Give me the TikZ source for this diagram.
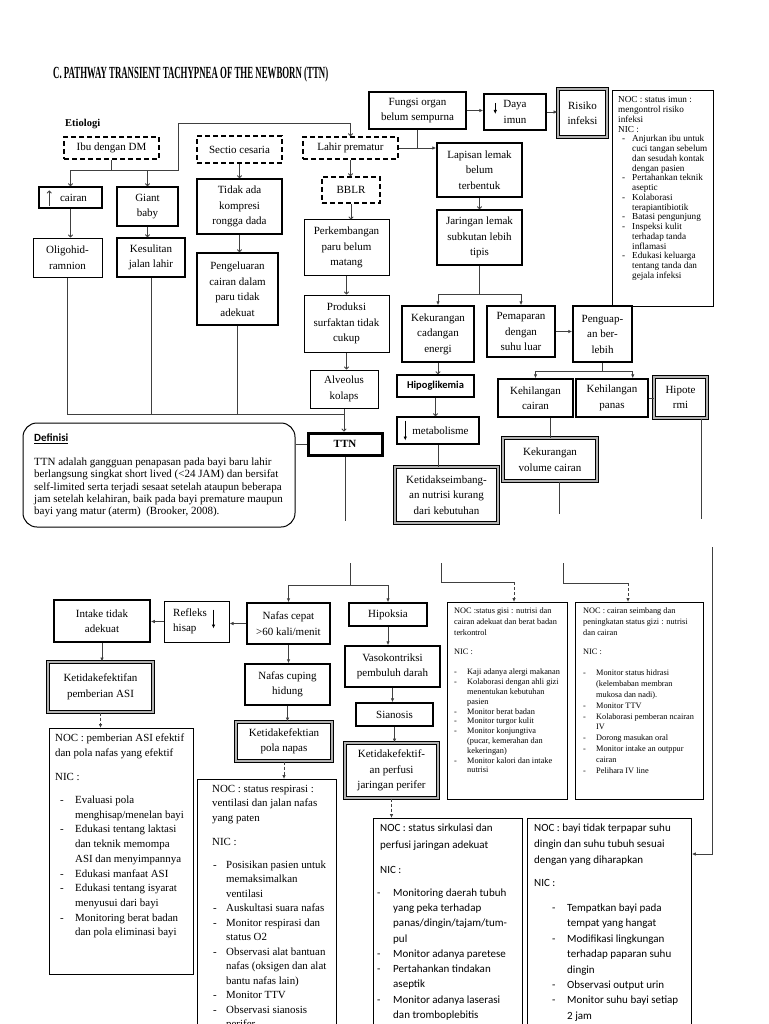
\documentclass[tikz,border=0pt]{standalone}
\usepackage{fontspec}
\setmainfont{Liberation Serif}
\newfontfamily\calfont{Carlito}
\usepackage{graphicx}
\usepackage{tikz}
\usetikzlibrary{positioning,calc,arrows.meta}

\newlength\dpre
\newlength\dind
\newcommand{\nit}[1]{\hspace*{\dpre}\makebox[\dind][l]{-}#1}
\newcommand{\ncn}[1]{\hspace*{\dpre}\hspace*{\dind}#1}

\tikzset{
	sbox/.style={draw, line width=1.5pt, align=center, inner sep=1pt, font=\fontsize{11}{15.5}\selectfont},
	tbox/.style={sbox, line width=1pt},
	dbox/.style={sbox, line width=1.6pt, dash pattern=on 5pt off 3pt},
	dblbox/.style={sbox, line width=1pt, double=gray!60, double distance=1.3pt},
	ttnbox/.style={sbox, line width=3pt},
	nocbox/.style={draw, line width=0.8pt, inner sep=0pt, anchor=north west},
	noctext/.style={align=left, inner sep=0pt, anchor=north west},
	conn/.style={draw=black!75, line width=0.8pt},
	arr/.style={conn, -{To[length=3pt,width=5pt]}},
	farr/.style={conn, -{Latex[length=4pt,width=3.5pt]}},
	darr/.style={farr, dash pattern=on 3pt off 2pt},
}

\begin{document}
\begin{tikzpicture}[x=1pt, y=-1pt]
		\useasboundingbox (0,0) rectangle (768,1024);
		\fill[white] (0,0) rectangle (768,1024);
		\clip (0,0) rectangle (768,1024);
		\node[anchor=west, inner sep=0pt] (title) at (53,74) {\resizebox{275pt}{\height}{\fontsize{17}{17}\selectfont\bfseries C. PATHWAY TRANSIENT TACHYPNEA OF THE NEWBORN (TTN)}};
		\node[anchor=west, inner sep=0pt, font=\fontsize{10.5}{12}\selectfont\bfseries] (etiologi) at (65,124) {Etiologi};
		% etiologi
		\node[dbox, minimum width=95, minimum height=22] (ibudm) at (111.5,148) {Ibu dengan DM};
		\node[dbox, minimum width=85, minimum height=27] (sectio) at (239.5,149.5) {Sectio cesaria};
		\node[dbox, minimum width=95, minimum height=22] (lahir) at (350.5,148) {Lahir prematur};
		\node[sbox, minimum width=63, minimum height=21] (cairan) at (70.5,197.5) {\hspace*{6pt}cairan};
		\node[sbox, minimum width=61, minimum height=39] (giant) at (147.5,206.5) {Giant\\baby};
		\node[tbox, minimum width=69, minimum height=39] (oligo) at (67.5,257.5) {Oligohid-\\ramnion};
		\node[sbox, minimum width=68, minimum height=39] (kesulitan) at (151,257.5) {Kesulitan\\jalan lahir};
		\node[sbox, minimum width=85, minimum height=55] (kompresi) at (239.5,206.5) {Tidak ada\\kompresi\\rongga dada};
		\node[sbox, minimum width=81, minimum height=72] (pengeluaran) at (237.5,289) {Pengeluaran\\cairan dalam\\paru tidak\\adekuat};
		\node[dbox, minimum width=58, minimum height=26] (bblr) at (351,190) {BBLR};
		\node[tbox, minimum width=85, minimum height=55] (perkembangan) at (346.5,247.5) {Perkembangan\\paru belum\\matang};
		\node[tbox, minimum width=85, minimum height=57] (surfaktan) at (346.5,323.5) {Produksi\\surfaktan tidak\\cukup};
		\node[tbox, minimum width=68, minimum height=38] (alveolus) at (344,389) {Alveolus\\kolaps};
		\node[ttnbox, minimum width=74, minimum height=22] (ttn) at (345,444) {\textbf{TTN}};
		\node[draw, line width=1pt, rounded corners=14pt, minimum width=272, minimum height=104] (definisi) at (159,475) {};
		\node[noctext, font=\fontsize{11}{12.3}\selectfont] (deftext) at (34,433.5) {{\calfont\bfseries\underline{Definisi}}\\[11.7pt]
			TTN adalah gangguan penapasan pada bayi baru lahir\\
			berlangsung singkat short lived (<24 JAM) dan bersifat\\
			self-limited serta terjadi sesaat setelah ataupun beberapa\\
			jam setelah kelahiran, baik pada bayi premature maupun\\
			bayi yang matur (aterm)~ (Brooker, 2008).};
		% organ, lemak, suhu
		\node[sbox, minimum width=97, minimum height=37] (fungsi) at (417.5,110.5) {Fungsi organ\\belum sempurna};
		\node[sbox, minimum width=62, minimum height=36] (daya) at (515,112) {Daya\\imun};
		\node[dblbox, minimum width=49, minimum height=48] (risiko) at (582.5,113) {Risiko\\infeksi};
		\node[nocbox, minimum width=101, minimum height=216] (nocimun) at (612,90) {};
		\node[noctext, font={\fontsize{9.2}{9.75}\selectfont\setlength\dpre{4pt}\setlength\dind{10pt}}] (imuntext) at (618,96.5) {NOC : status imun :\\
			mengontrol risiko\\
			infeksi\\
			NIC :\\
			\nit{Anjurkan ibu untuk}\\
			\ncn{cuci tangan sebelum}\\
			\ncn{dan sesudah kontak}\\
			\ncn{dengan pasien}\\
			\nit{Pertahankan teknik}\\
			\ncn{aseptic}\\
			\nit{Kolaborasi}\\
			\ncn{terapiantibiotik}\\
			\nit{Batasi pengunjung}\\
			\nit{Inspeksi kulit}\\
			\ncn{terhadap tanda}\\
			\ncn{inflamasi}\\
			\nit{Edukasi keluarga}\\
			\ncn{tentang tanda dan}\\
			\ncn{gejala infeksi}};
		\node[sbox, minimum width=85, minimum height=54] (lapisan) at (479.5,170) {Lapisan lemak\\belum\\terbentuk};
		\node[sbox, minimum width=85, minimum height=55] (jaringan) at (479.5,237.5) {Jaringan lemak\\subkutan lebih\\tipis};
		\node[sbox, minimum width=72, minimum height=56] (energi) at (438,334) {Kekurangan\\cadangan\\energi};
		\node[sbox, minimum width=68, minimum height=51] (pemaparan) at (521,331.5) {Pemaparan\\dengan\\suhu luar};
		\node[sbox, minimum width=59, minimum height=56] (penguapan) at (602.5,334) {Penguap-\\an ber-\\lebih};
		\node[sbox, minimum width=77, minimum height=22, font=\calfont\bfseries\fontsize{10.5}{12}\selectfont] (hipoglikemia) at (435.5,386) {Hipoglikemia};
		\node[sbox, minimum width=82, minimum height=27] (metabolisme) at (438,430.5) {\hspace*{5pt}metabolisme};
		\node[dblbox, minimum width=103, minimum height=56] (nutrisi) at (446.5,495) {Ketidakseimbang-\\an nutrisi kurang\\dari kebutuhan};
		\node[sbox, minimum width=75, minimum height=38] (hilangcairan) at (535.5,398) {Kehilangan\\cairan};
		\node[sbox, minimum width=72, minimum height=38] (hilangpanas) at (612,398) {Kehilangan\\panas};
		\node[dblbox, minimum width=53, minimum height=41] (hipotermi) at (680.5,397.5) {Hipote\\rmi};
		\node[dblbox, minimum width=94, minimum height=43] (volume) at (550,459.5) {Kekurangan\\volume cairan};
		% lower half
		\node[sbox, minimum width=83, minimum height=41] (nafascepat) at (288.5,623.5) {Nafas cepat\\>60 kali/menit};
		\node[sbox, minimum width=78, minimum height=23] (hipoksia) at (388,614.5) {Hipoksia};
		\node[tbox, minimum width=65, minimum height=41, align=left] (refleks) at (196.5,621.5) {Refleks\hspace*{13pt}\\hisap};
		\node[sbox, minimum width=96, minimum height=42] (intake) at (102,621) {Intake tidak\\adekuat};
		\node[dblbox, minimum width=105, minimum height=50] (asi) at (100.5,687) {Ketidakefektifan\\pemberian ASI};
		\node[sbox, minimum width=85, minimum height=41] (cuping) at (287.5,684.5) {Nafas cuping\\hidung};
		\node[dblbox, minimum width=96, minimum height=39] (polanapas) at (284,741.5) {Ketidakefektian\\pola napas};
		\node[sbox, minimum width=95, minimum height=41] (vaso) at (392.5,666.5) {Vasokontriksi\\pembuluh darah};
		\node[sbox, minimum width=77, minimum height=23] (sianosis) at (394.5,714.5) {Sianosis};
		\node[dblbox, minimum width=93, minimum height=55] (perfusi) at (391.5,770.5) {Ketidakefektif-\\an perfusi\\jaringan perifer};
		\node[nocbox, minimum width=120, minimum height=197] (nocgisi) at (447,602) {};
		\node[nocbox, minimum width=128, minimum height=197] (noccairan) at (575,602) {};
		\node[nocbox, minimum width=144, minimum height=246] (nocasi) at (49,728) {};
		\node[nocbox, minimum width=139, minimum height=260] (nocresp) at (197,779) {};
		\node[nocbox, minimum width=149, minimum height=220] (nocsirk) at (373,818) {};
		\node[nocbox, minimum width=164, minimum height=220] (nocbayi) at (527,818) {};
		\node[noctext, font={\fontsize{8.3}{9.8}\selectfont\setlength\dpre{0pt}\setlength\dind{13pt}}] (gisitext) at (454,608) {NOC :status gisi : nutrisi dan\\[1.2pt]
			cairan adekuat dan berat badan\\[1.2pt]
			terkontrol\\[9.2pt]
			NIC :\\[10.2pt]
			\nit{Kaji adanya alergi makanan}\\
			\nit{Kolaborasi dengan ahli gizi}\\
			\ncn{menentukan kebutuhan}\\
			\ncn{pasien}\\
			\nit{Monitor berat badan}\\
			\nit{Monitor turgor kulit}\\
			\nit{Monitor konjungtiva}\\
			\ncn{(pucar, kemerahan dan}\\
			\ncn{kekeringan)}\\
			\nit{Monitor kalori dan intake}\\
			\ncn{nutrisi}};
		\node[noctext, font={\fontsize{8.3}{10.8}\selectfont\setlength\dpre{0pt}\setlength\dind{13pt}}] (cairtext) at (583,608) {NOC : cairan seimbang dan\\[0.2pt]
			peningkatan status gizi : nutrisi\\[0.2pt]
			dan cairan\\[8.2pt]
			NIC :\\[10.2pt]
			\nit{Monitor status hidrasi}\\
			\ncn{(kelembaban membran}\\
			\ncn{mukosa dan nadi).}\\
			\nit{Monitor TTV}\\
			\nit{Kolaborasi pemberan ncairan}\\
			\ncn{IV}\\
			\nit{Dorong masukan oral}\\
			\nit{Monitor intake an outppur}\\
			\ncn{cairan}\\
			\nit{Pelihara IV line}};
		\node[noctext, font={\fontsize{10.9}{14.7}\selectfont\setlength\dpre{5pt}\setlength\dind{15pt}}] (asitext) at (55,734) {NOC : pemberian ASI efektif\\
			dan pola nafas yang efektif\\[9.3pt]
			NIC :\\[8.3pt]
			\nit{Evaluasi pola}\\
			\ncn{menghisap/menelan bayi}\\
			\nit{Edukasi tentang laktasi}\\
			\ncn{dan teknik memompa}\\
			\ncn{ASI dan menyimpannya}\\
			\nit{Edukasi manfaat ASI}\\
			\nit{Edukasi tentang isyarat}\\
			\ncn{menyusui dari bayi}\\
			\nit{Monitoring berat badan}\\
			\ncn{dan pola eliminasi bayi}};
		\node[noctext, font={\fontsize{10.9}{14.5}\selectfont\setlength\dpre{1pt}\setlength\dind{13pt}}] (resptext) at (212,785) {NOC : status respirasi :\\
			ventilasi dan jalan nafas\\
			yang paten\\[9.5pt]
			NIC :\\[8.5pt]
			\nit{Posisikan pasien untuk}\\
			\ncn{memaksimalkan}\\
			\ncn{ventilasi}\\
			\nit{Auskultasi suara nafas}\\
			\nit{Monitor respirasi dan}\\
			\ncn{status O2}\\
			\nit{Observasi alat bantuan}\\
			\ncn{nafas (oksigen dan alat}\\
			\ncn{bantu nafas lain)}\\
			\nit{Monitor TTV}\\
			\nit{Observasi sianosis}\\
			\ncn{perifer}};
		\node[noctext, font={\calfont\fontsize{11}{15.25}\selectfont\setlength\dpre{0pt}\setlength\dind{16pt}}] (sirktext) at (377,823.6) {\hspace*{3pt}NOC : status sirkulasi dan\\[1.75pt]
			\hspace*{3pt}perfusi jaringan adekuat\\[9.75pt]
			\hspace*{3pt}NIC :\\[7.75pt]
			\nit{Monitoring daerah tubuh}\\
			\ncn{yang peka terhadap}\\
			\ncn{panas/dingin/tajam/tum-}\\
			\ncn{pul}\\
			\nit{Monitor adanya paretese}\\
			\nit{Pertahankan tindakan}\\
			\ncn{aseptik}\\
			\nit{Monitor adanya laserasi}\\
			\ncn{dan tromboplebitis}};
		\node[noctext, font={\calfont\fontsize{11}{15.4}\selectfont\setlength\dpre{18pt}\setlength\dind{15pt}}] (bayitext) at (534,823.6) {NOC : bayi tidak terpapar suhu\\[0.6pt]
			dingin dan suhu tubuh sesuai\\[0.6pt]
			dengan yang diharapkan\\[7.6pt]
			NIC :\\[9.6pt]
			\nit{Tempatkan bayi pada}\\
			\ncn{tempat yang hangat}\\
			\nit{Modifikasi lingkungan}\\
			\ncn{terhadap paparan suhu}\\
			\ncn{dingin}\\
			\nit{Observasi output urin}\\
			\nit{Monitor suhu bayi setiap}\\
			\ncn{2 jam}};
		% small arrows inside boxes
		\draw[arr] ($(cairan.west)+(11,9)$) -- ($(cairan.west)+(11,-7)$);
		\draw[farr, draw=black] ($(daya.west)+(12,-9)$) -- ($(daya.west)+(12,2)$);
		\draw[farr, draw=black] ($(refleks.east)+(-16,-12)$) -- ($(refleks.east)+(-16,7)$);
		\draw[farr, draw=black] ($(metabolisme.west)+(9,-10)$) -- ($(metabolisme.west)+(9,10)$);
		% connectors, upper half
		\coordinate (etop) at (0,123);
		\draw[arr] (ibudm.south) -- ++(0,11) -| (cairan.north);
		\draw[arr] (ibudm.south) -- ++(0,11) -| (giant.north);
		\draw[arr] (ibudm.south) -- ++(0,11) -| (giant.east |- etop) -| (lahir.north);
		\draw[arr] (cairan.south) -- (cairan.south |- oligo.north);
		\draw[arr] (giant.south) -- (giant.south |- kesulitan.north);
		\draw[arr] (sectio) -- (kompresi);
		\draw[arr] (kompresi.south) -- (kompresi.south |- pengeluaran.north);
		\draw[arr] (lahir.south) -- (lahir.south |- bblr.north);
		\draw[arr] (bblr.south) -- (bblr.south |- perkembangan.north);
		\draw[arr] (perkembangan) -- (surfaktan);
		\draw[arr] (surfaktan.south) -- (surfaktan.south |- alveolus.north);
		\coordinate (ttnjoin) at (0,414);
		\draw[conn] (oligo.south) |- (alveolus.south |- ttnjoin);
		\draw[conn] (kesulitan.south) -- (kesulitan.south |- ttnjoin);
		\draw[conn] (pengeluaran.south) -- (pengeluaran.south |- ttnjoin);
		\draw[arr] (alveolus.south) -- (alveolus.south |- ttn.north);
		\draw[conn] (definisi.east |- ttn.west) -- (ttn.west);
		\coordinate (ttnend) at (345,521);
		\draw[conn] (ttn.south) -- (ttnend);
		\draw[farr] (fungsi.east) -- (fungsi.east -| daya.west);
		\draw[farr] (daya.east) -- (daya.east -| risiko.west);
		\draw[farr] (lahir.east) -- (lahir.east -| lapisan.west);
		\draw[conn] (fungsi.south) -- (fungsi.south |- lahir.east);
		\draw[arr] (lapisan) -- (jaringan);
		\coordinate (jfork) at (0,294);
		\draw[conn] (jaringan.south) -- (jaringan.south |- jfork);
		\draw[farr] (jaringan.south |- jfork) -| (energi.north);
		\draw[farr] (jaringan.south |- jfork) -| (pemaparan.north);
		\draw[farr] (pemaparan.east) -- (pemaparan.east -| penguapan.west);
		\coordinate (pfork) at (0,371);
		\draw[conn] (penguapan.south) -- (penguapan.south |- pfork);
		\draw[farr] (penguapan.south |- pfork) -| (hilangcairan.north);
		\draw[farr] (penguapan.south |- pfork) -| (penguapan.east |- hilangpanas.north);
		\draw[conn] (hilangpanas.east) -- (hilangpanas.east -| hipotermi.west);
		\draw[arr] (energi.south) -- (energi.south |- hipoglikemia.north);
		\draw[arr] (hipoglikemia.south) -- (hipoglikemia.south |- metabolisme.north);
		\draw[conn] (metabolisme.south) -- (metabolisme.south |- nutrisi.north);
		\draw[conn] (volume.north |- hilangcairan.south) -- (volume.north);
		\coordinate (volend) at (559,514);
		\draw[conn] (volume.south -| volend) -- (volend);
		\coordinate (hipoend) at (701,519);
		\draw[conn] (hipotermi.south -| hipoend) -- (hipoend);
		% connectors, lower half
		\coordinate (ttnstart) at (350,563);
		\coordinate (lfork) at (0,585);
		\draw[conn] (ttnstart) -- (ttnstart |- lfork);
		\draw[farr] (ttnstart |- lfork) -| (nafascepat.north);
		\draw[farr] (ttnstart |- lfork) -| (hipoksia.north);
		\draw[farr] (nafascepat.west) -- (nafascepat.west -| refleks.east);
		\draw[farr] (refleks.west) -- (refleks.west -| intake.east);
		\draw[farr] (intake.south) -- (intake.south |- asi.north);
		\draw[darr] (asi.south) -- (asi.south |- nocasi.north);
		\draw[farr] (nafascepat.south) -- (nafascepat.south |- cuping.north);
		\draw[farr] (cuping.south) -- (cuping.south |- polanapas.north);
		\draw[darr] (polanapas.south) -- (polanapas.south |- nocresp.north);
		\draw[farr] (hipoksia.south) -- (hipoksia.south |- vaso.north);
		\draw[farr] (vaso.south) -- (vaso.south |- sianosis.north);
		\draw[farr] (sianosis.south) -- (sianosis.south |- perfusi.north);
		\draw[darr] (perfusi.south) -- (perfusi.south |- nocsirk.north);
		\coordinate (gisistart) at (441,563);
		\coordinate (gisibend) at (514,582);
		\draw[conn] (gisistart) |- (gisibend);
		\draw[darr] (gisibend) -- (gisibend |- nocgisi.north);
		\coordinate (cairstart) at (563,563);
		\coordinate (cairbend) at (628,583);
		\draw[conn] (cairstart) |- (cairbend);
		\draw[darr] (cairbend) -- (cairbend |- noccairan.north);
		\coordinate (hipostart) at (712,547);
		\coordinate (hipobend) at (712,854);
		\draw[farr] (hipostart) -- (hipobend) -- (hipobend -| nocbayi.east);
	\end{tikzpicture}
\end{document}
